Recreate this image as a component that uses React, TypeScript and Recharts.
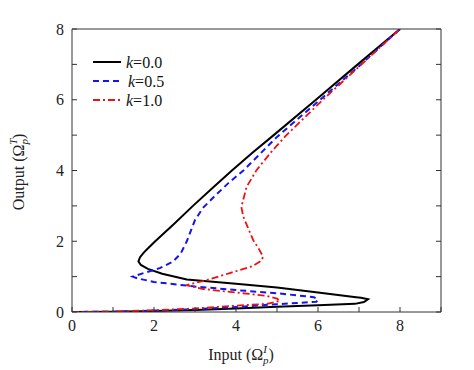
import { LineChart, Line, XAxis, YAxis, Legend, Label } from 'recharts';

// k = 0.0 (solid black)
const k0X = [0, 1, 2, 3, 4, 5, 6, 6.9, 7.12, 7.22, 7.05, 6.93, 6, 5, 4, 2.8, 2.2, 1.85, 1.68, 1.62, 1.66, 1.75, 1.88, 2.03, 2.5, 2.95, 3.42, 3.9, 4.4, 4.92, 5.95, 6.97, 8];
const k0Y = [0, 0.01, 0.03, 0.06, 0.1, 0.15, 0.19, 0.23, 0.28, 0.36, 0.4, 0.42, 0.55, 0.69, 0.8, 0.92, 1.08, 1.22, 1.33, 1.43, 1.55, 1.68, 1.83, 2.0, 2.5, 3.0, 3.5, 4.0, 4.5, 5.0, 6.0, 7.0, 8.0];

// k = 0.5 (dashed blue)
const k05X = [0, 1, 2, 3, 4, 5, 5.96, 6.0, 5.9, 5, 4, 3, 2, 1.6, 1.48, 1.8, 2.14, 2.46, 2.65, 2.8, 3.0, 3.2, 3.5, 3.82, 4.18, 5, 6, 7, 8];
const k05Y = [0, 0.01, 0.04, 0.08, 0.14, 0.22, 0.29, 0.34, 0.42, 0.53, 0.62, 0.72, 0.85, 0.95, 1.0, 1.12, 1.24, 1.42, 1.65, 2.0, 2.6, 2.95, 3.3, 3.65, 4.0, 4.95, 5.95, 6.95, 8.0];

// k = 1.0 (dash-dot red)
const k1X = [0, 1, 2, 3, 4, 4.74, 5.07, 5.0, 4.74, 4, 3.2, 2.79, 3.28, 3.85, 4.41, 4.62, 4.66, 4.55, 4.42, 4.18, 4.13, 4.26, 4.5, 4.9, 5.23, 6.12, 7.06, 8];
const k1Y = [0, 0.01, 0.05, 0.1, 0.18, 0.23, 0.31, 0.38, 0.46, 0.55, 0.65, 0.76, 0.9, 1.1, 1.3, 1.45, 1.56, 1.8, 2.03, 2.69, 2.97, 3.54, 4.01, 4.58, 5.0, 6.0, 7.0, 8.0];

const xTicks = [0, 1, 2, 3, 4, 5, 6, 7, 8, 9];
const yTicks = [0, 1, 2, 3, 4, 5, 6, 7, 8];

const zip = (xs: number[], ys: number[]) => xs.map((x, i) => ({ x, y: ys[i] }));

const FONT = '"Liberation Serif", serif';
const AXIS = '#333';

const series = [
  { name: '0.0', data: zip(k0X, k0Y), color: '#000000', dash: undefined, width: 2 },
  { name: '0.5', data: zip(k05X, k05Y), color: '#1414f0', dash: '6 4', width: 2 },
  { name: '1.0', data: zip(k1X, k1Y), color: '#ee1111', dash: '7 3 2 3', width: 1.8 },
];

const BottomTick = (props: any) => {
  const { x, y, payload } = props;
  const v = payload.value;
  return (
    <g>
      <line x1={x} y1={y} x2={x} y2={y - 5} stroke={AXIS} />
      {v % 2 === 0 && (
        <text x={x} y={y + 19} textAnchor="middle" fontFamily={FONT} fontSize={16} fill="#222">{v}</text>
      )}
    </g>
  );
};

const TopTick = (props: any) => {
  const { x, y } = props;
  return <line x1={x} y1={y} x2={x} y2={y + 5} stroke={AXIS} />;
};

const LeftTick = (props: any) => {
  const { x, y, payload } = props;
  const v = payload.value;
  return (
    <g>
      <line x1={x} y1={y} x2={x + 5} y2={y} stroke={AXIS} />
      {v % 2 === 0 && (
        <text x={x - 8} y={y} dy="0.35em" textAnchor="end" fontFamily={FONT} fontSize={16} fill="#222">{v}</text>
      )}
    </g>
  );
};

const RightTick = (props: any) => {
  const { x, y } = props;
  return <line x1={x} y1={y} x2={x - 5} y2={y} stroke={AXIS} />;
};

const LegendBox = () => (
  <svg width={130} height={62} style={{ display: 'block' }}>
    {series.map((s, i) => (
      <g key={s.name}>
        <line x1={5} x2={33} y1={12 + i * 19} y2={12 + i * 19} stroke={s.color} strokeWidth={s.width} strokeDasharray={s.dash} />
        <text x={i === 1 ? 40 : 38} y={12 + i * 19} dy="0.35em" fontFamily={FONT} fontSize={16} fill="#111">
          <tspan fontStyle="italic">k</tspan>={s.name}
        </text>
      </g>
    ))}
  </svg>
);

const XTitle = () => (
  <text x={241} y={360} textAnchor="middle" fontFamily={FONT} fontSize={16} fill="#222">
    Input (Ω
    <tspan dy={-7} fontSize={11} fontStyle="italic">I</tspan>
    <tspan dx={-4} dy={11} fontSize={11} fontStyle="italic">p</tspan>
    <tspan dy={-4}>)</tspan>
  </text>
);

const YTitle = () => (
  <text x={0} y={0} transform="translate(24,172) rotate(-90)" textAnchor="middle" fontFamily={FONT} fontSize={16} fill="#222">
    Output (Ω
    <tspan dy={-7} fontSize={11} fontStyle="italic">T</tspan>
    <tspan dx={-6} dy={11} fontSize={11} fontStyle="italic">p</tspan>
    <tspan dy={-4}>)</tspan>
  </text>
);

export default function App() {
  return (
    <div style={{ position: 'absolute', left: 0, top: 0, background: '#fff' }}>
      <LineChart width={474} height={370} margin={{ top: 28, right: 32, left: 32, bottom: 18 }}>
        <XAxis
          dataKey="x" type="number" domain={[0, 9]} ticks={xTicks} interval={0}
          tickSize={0} tickMargin={0} tick={BottomTick} height={40}
          axisLine={{ stroke: AXIS }} allowDataOverflow
        >
          <Label content={() => <XTitle />} />
        </XAxis>
        <XAxis
          xAxisId="t" orientation="top" type="number" domain={[0, 9]} ticks={xTicks} interval={0}
          tickSize={0} tickMargin={0} tick={TopTick} height={1}
          axisLine={{ stroke: AXIS }} allowDataOverflow
        />
        <YAxis
          type="number" domain={[0, 8]} ticks={yTicks} interval={0}
          tickSize={0} tickMargin={0} tick={LeftTick} width={40}
          axisLine={{ stroke: AXIS }} allowDataOverflow
        >
          <Label content={() => <YTitle />} />
        </YAxis>
        <YAxis
          yAxisId="r" orientation="right" type="number" domain={[0, 8]} ticks={yTicks} interval={0}
          tickSize={0} tickMargin={0} tick={RightTick} width={1}
          axisLine={{ stroke: AXIS }} allowDataOverflow
        />
        <Legend
          layout="vertical" align="center" verticalAlign="middle"
          wrapperStyle={{ left: 88, top: 50, width: 130 }}
          content={() => <LegendBox />}
        />
        {series.map(s => (
          <Line
            key={s.name}
            data={s.data}
            dataKey="y"
            type="linear"
            stroke={s.color}
            strokeWidth={s.width}
            strokeDasharray={s.dash}
            dot={false}
            isAnimationActive={false}
          />
        ))}
      </LineChart>
    </div>
  );
}
